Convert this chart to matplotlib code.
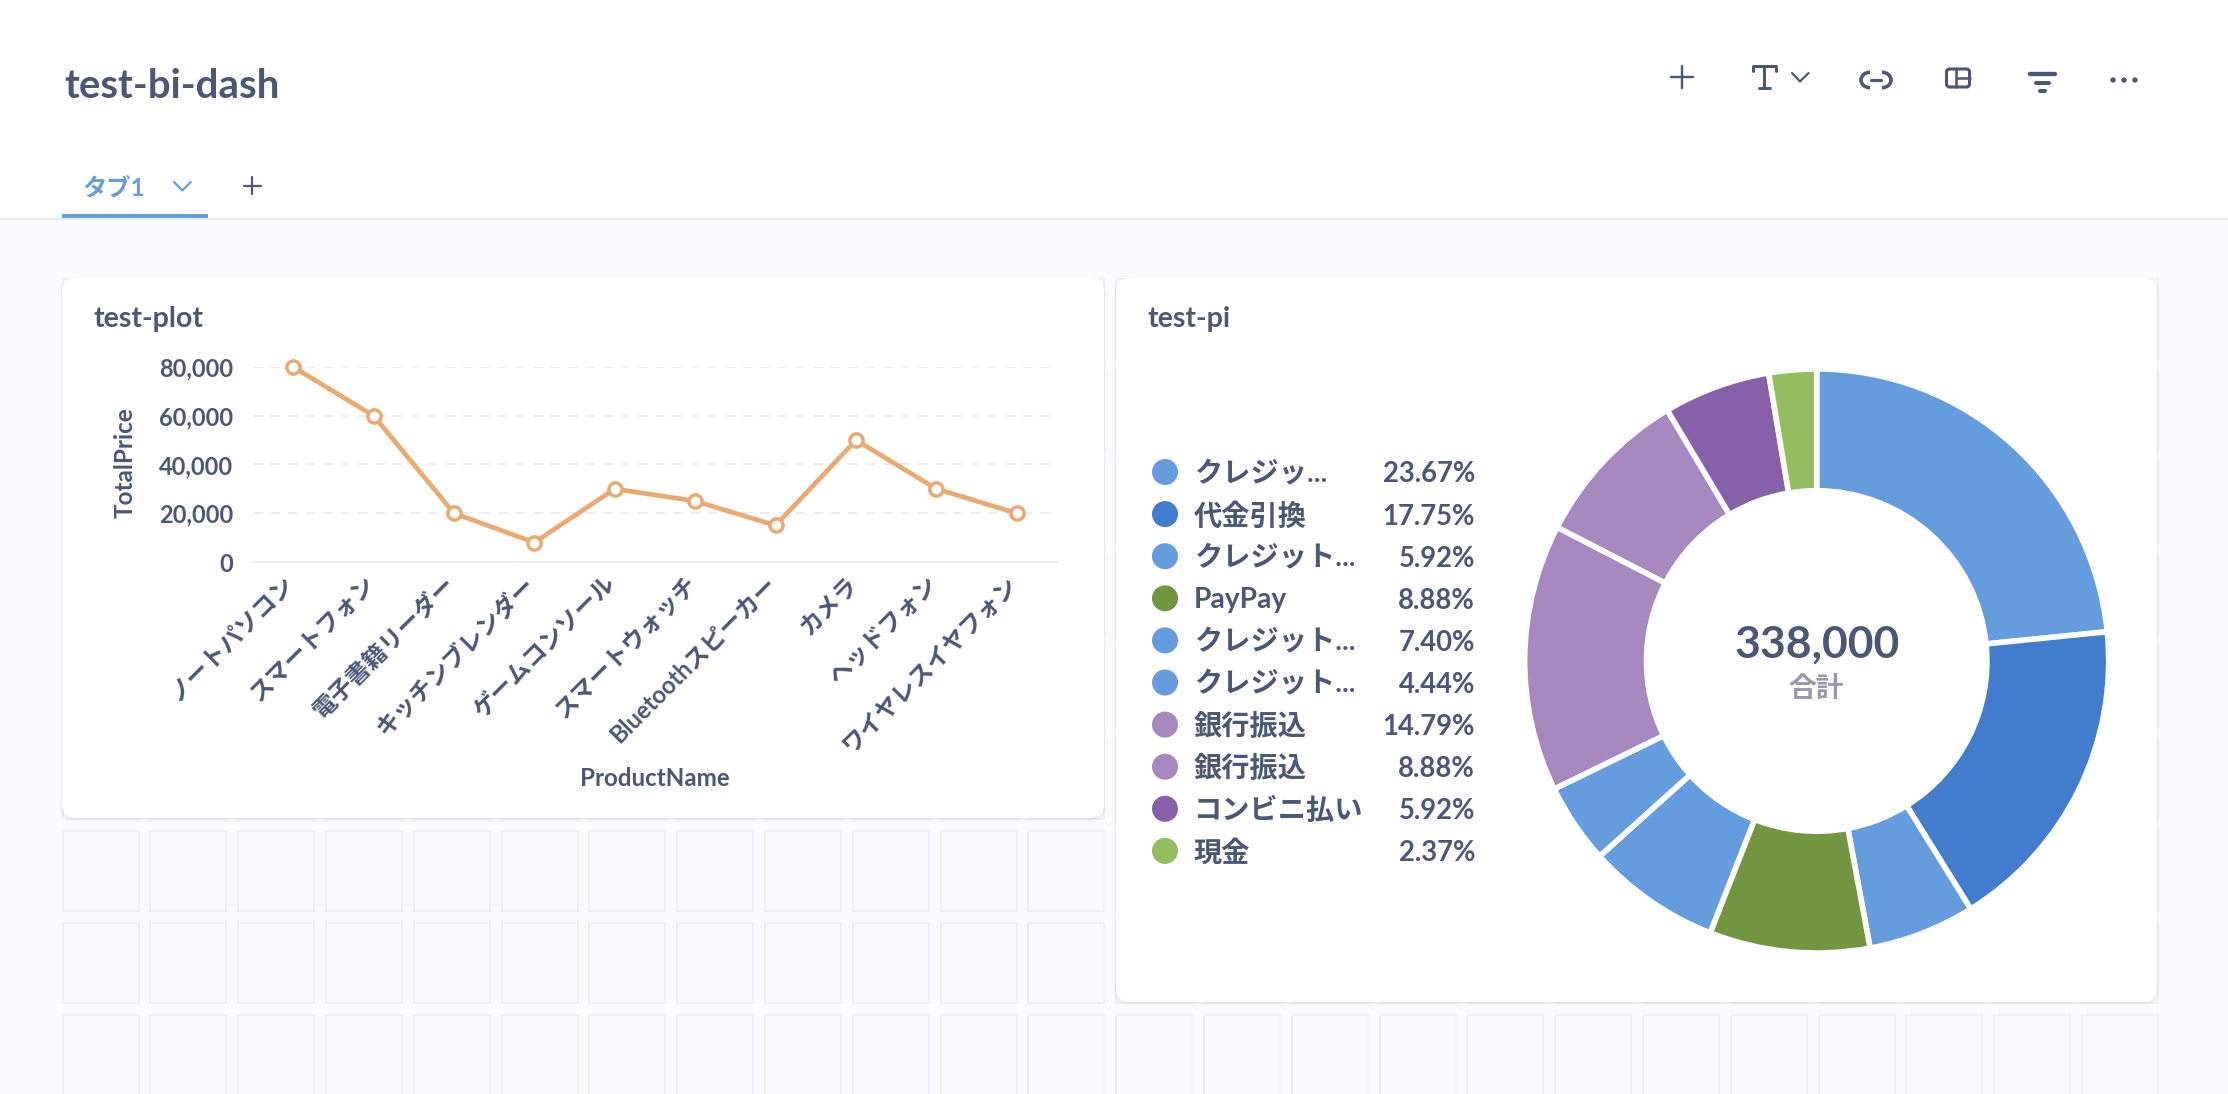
import matplotlib
matplotlib.use("Agg")
import matplotlib.pyplot as plt
from matplotlib.patches import FancyBboxPatch, Rectangle, Circle, Arc
from matplotlib.transforms import ScaledTranslation

W, H = 2228, 1094

products = ["ノートパソコン", "スマートフォン", "電子書籍リーダー", "キッチンブレンダー", "ゲームコンソール",
            "スマートウォッチ", "Bluetoothスピーカー", "カメラ", "ヘッドフォン", "ワイヤレスイヤフォン"]
prices = [80000, 60000, 20000, 8000, 30000, 25000, 15000, 50000, 30000, 20000]
y_ticks = [0, 20000, 40000, 60000, 80000]

pay_labels = ["クレジッ...", "代金引換", "クレジット...", "PayPay", "クレジット...",
              "クレジット...", "銀行振込", "銀行振込", "コンビニ払い", "現金"]
pay_values = [80000, 60000, 20000, 30000, 25000, 15000, 50000, 30000, 20000, 8000]
# slice sizes as drawn: the smallest slice is widened a bit, first one gives it up
pay_arcs = [79100, 60000, 20000, 30000, 25000, 15000, 50000, 30000, 20000, 8900]
pay_colors = ["#659CDE", "#417CCD", "#659CDE", "#719541", "#659CDE",
              "#659CDE", "#A688BE", "#A688BE", "#8660A9", "#94BD60"]

DARK = "#4C5773"
BLUE = "#659CDE"
ORANGE = "#E9AA72"
LINE = "#EEECEC"
BG = "#F9FBFC"
FONT = ["Lato", "Noto Sans CJK JP"]

plt.rcParams["font.family"] = FONT
plt.rcParams["font.weight"] = "bold"

fig = plt.figure(figsize=(W / 100, H / 100), dpi=100, facecolor="white")


def px_axes(x0, y0, x1, y1, **kw):
    return fig.add_axes([x0 / W, 1 - y1 / H, (x1 - x0) / W, (y1 - y0) / H], **kw)


# page background, in pixel coordinates
bg = fig.add_axes([0, 0, 1, 1])
bg.set_xlim(0, W)
bg.set_ylim(H, 0)
bg.axis("off")

bg.add_patch(Rectangle((0, 219), W, H - 219, fc=BG, ec="none"))
bg.add_patch(Rectangle((0, 218), W, 2, fc=LINE, ec="none"))
bg.add_patch(Rectangle((62, 214), 146, 4, fc=BLUE, ec="none"))

# empty grid cells
for row in range(10):
    for col in range(24):
        bg.add_patch(Rectangle((62.5 + 87.8 * col, 278.5 + 92 * row), 76, 80.5, fc="none", ec="#F0EFF1", lw=1.4))


def card(x0, y0, x1, y1):
    for grow, alpha in [(6, 0.008), (4, 0.012), (2.5, 0.018), (1, 0.03)]:
        bg.add_patch(FancyBboxPatch((x0 - grow / 2, y0 + 1), x1 - x0 + grow, y1 - y0 + grow / 2,
                                    boxstyle="round,pad=0,rounding_size=14", fc="#2E3548", ec="none", alpha=alpha))
    bg.add_patch(FancyBboxPatch((x0, y0), x1 - x0, y1 - y0, boxstyle="round,pad=0,rounding_size=14",
                                fc="white", ec="none"))


card(62, 278, 1104, 818)
card(1116, 278, 2157, 1002)

# header text
bg.text(64, 87, "test-bi-dash", fontsize=28.9, color=DARK, va="center", ha="left")
bg.text(83, 188, "タブ1", fontsize=17.5, color=BLUE, va="center", ha="left")
bg.text(94, 318.5, "test-plot", fontsize=20.6, color=DARK, va="center", ha="left")
bg.text(1148, 318.5, "test-pi", fontsize=20.6, color=DARK, va="center", ha="left")


def stroke(xs, ys, color=DARK, lw=2.4):
    bg.plot(xs, ys, color=color, lw=lw * 0.72, solid_capstyle="round", solid_joinstyle="round")


# tab chevron and plus
stroke([174, 182.3, 190.7], [182, 190.5, 182], BLUE, 2.2)
stroke([243.5, 260.5], [185.5, 185.5], DARK, 2.2)
stroke([252, 252], [177, 194], DARK, 2.2)

# toolbar icons
stroke([1670.5, 1693], [76.7, 76.7])
stroke([1681.7, 1681.7], [65.5, 88])
stroke([1752.5, 1752.5, 1776, 1776], [71, 65.5, 65.5, 71], DARK, 3)
stroke([1764, 1764], [65.5, 88], DARK, 3)
stroke([1758.5, 1769.5], [88, 88], DARK, 3)
stroke([1792, 1800, 1808.5], [73, 81.5, 73], DARK, 2.2)
bg.add_patch(Arc((1870, 80), 18, 15.5, theta1=90, theta2=270, ec=DARK, lw=2.6))
bg.add_patch(Arc((1882, 80), 18, 15.5, theta1=-90, theta2=90, ec=DARK, lw=2.6))
stroke([1871, 1881], [80, 80], DARK, 3.2)
bg.add_patch(FancyBboxPatch((1946.5, 69), 23, 18, boxstyle="round,pad=0,rounding_size=3", fc="none", ec=DARK, lw=2.2))
stroke([1955.7, 1955.7], [69, 87], DARK, 2.6)
stroke([1955.7, 1969.5], [77.7, 77.7], DARK, 2.6)
stroke([2030, 2054.5], [73.7, 73.7], DARK, 4.4)
stroke([2036, 2048.5], [83, 83], DARK, 4)
stroke([2040, 2044.5], [91.3, 91.3], DARK, 4)
for dot_x in [2113, 2124, 2135]:
    bg.add_patch(Circle((dot_x, 80), 2.7, fc=DARK, ec="none"))

# line chart
ax = px_axes(253, 367, 1057, 562, facecolor="none")
ax.plot(range(len(products)), prices, color=ORANGE, lw=3.4, marker="o", ms=9.5, mfc="white", mec=ORANGE, mew=2.5,
        clip_on=False, zorder=5)
ax.set_xlim(-0.5, len(products) - 0.5)
ax.set_ylim(0, 80000)
ax.set_yticks(y_ticks)
ax.set_yticklabels([f"{v:,}" for v in y_ticks])
ax.set_xticks(range(len(products)))
ax.set_xticklabels(products, rotation=45, ha="right", va="top", rotation_mode="anchor")
ax.tick_params(axis="y", length=0, pad=14, labelsize=17, labelcolor=DARK)
ax.tick_params(axis="x", length=0, pad=7, labelsize=17.1, labelcolor=DARK)
for lab in ax.get_xticklabels():
    lab.set_transform(lab.get_transform() + ScaledTranslation(-0.11, 0, fig.dpi_scale_trans))
ax.grid(axis="y", color=LINE, lw=1.4, ls=(0, (5, 4)))
ax.set_axisbelow(True)
for side in ["top", "left", "right"]:
    ax.spines[side].set_visible(False)
ax.spines["bottom"].set_color(LINE)
ax.spines["bottom"].set_linewidth(1.5)
bg.text(125, 463, "TotalPrice", fontsize=17.5, color=DARK, rotation=90, va="center", ha="center")
bg.text(655, 779, "ProductName", fontsize=17.4, color=DARK, va="center", ha="center")

# legend
total = sum(pay_values)
for i, (label, value, color) in enumerate(zip(pay_labels, pay_values, pay_colors)):
    y = 472 + 42.1 * i
    bg.add_patch(Circle((1165, y), 13, fc=color, ec="none"))
    bg.text(1194, y + 2, label, fontsize=20.3, color=DARK, va="center", ha="left")
    bg.text(1475, y + 2.5, f"{value / total * 100:.2f}%", fontsize=19.8, color=DARK, va="center", ha="right")

# donut
R = 292
cx, cy = 1816.7, 661
pie_ax = px_axes(cx - R, cy - R, cx + R, cy + R, facecolor="none")
pie_ax.pie(pay_arcs, colors=pay_colors, startangle=90, counterclock=False, radius=1,
           wedgeprops=dict(width=0.417, edgecolor="white", linewidth=4))
pie_ax.set_xlim(-1, 1)
pie_ax.set_ylim(-1, 1)
pie_ax.text(0, 0.055, f"{total:,}", fontsize=32, color=DARK, va="center", ha="center")
pie_ax.text(0, -0.095, "合計", fontsize=20, color="#949AAB", va="center", ha="center")

fig.savefig("out.png", dpi=100, facecolor="white")
